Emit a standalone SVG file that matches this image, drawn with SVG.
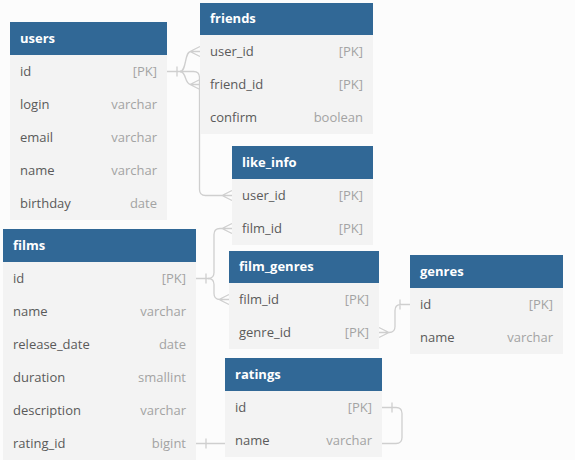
<svg xmlns="http://www.w3.org/2000/svg" width="575" height="460" viewBox="0 0 575 460">
<style>
.bg{fill:#fcfcfc}
.hd{fill:#316896}
.bd{fill:#f3f3f3}
.ht{font-family:"Open Sans","Liberation Sans",sans-serif;font-size:13px;font-weight:bold;fill:#ffffff}
.ft{font-family:"Open Sans","Liberation Sans",sans-serif;font-size:13px;fill:#5a5a5a}
.tt{font-family:"Open Sans","Liberation Sans",sans-serif;font-size:13px;fill:#a3a3a3;text-anchor:end}
.cn{fill:none;stroke:#cfcfcf;stroke-width:1.3}
</style>
<rect class="bg" x="0" y="0" width="575" height="460"/>
<g id="connectors">
<path class="cn" d="M167,71.5 H180 C187,71.5 184,51.5 191,51.5 H200 M190,51.5 L200,46.5 M190,51.5 L200,56.5 M177,66.5 V76.5"/>
<path class="cn" d="M180,71.5 C187,71.5 184,84.5 191,84.5 H200 M190,84.5 L200,79.5 M190,84.5 L200,89.5"/>
<path class="cn" d="M180,71.5 H193.5 Q199.5,71.5 199.5,77.5 V189.5 Q199.5,195.5 205.5,195.5 H232 M222,195.5 L232,190.5 M222,195.5 L232,200.5"/>
<path class="cn" d="M196,278.5 H208 Q214,278.5 214,272.5 V234.5 Q214,228.5 220,228.5 H232 M222,228.5 L232,223.5 M222,228.5 L232,233.5 M206,273.5 V283.5"/>
<path class="cn" d="M208,278.5 Q214,278.5 214,284.5 V293.5 Q214,299.5 220,299.5 H229 M219,299.5 L229,294.5 M219,299.5 L229,304.5"/>
<path class="cn" d="M379,332.5 H389 Q395,332.5 395,326.5 V310.5 Q395,304.5 401,304.5 H410 M389,332.5 L379,327.5 M389,332.5 L379,337.5 M400,299.5 V309.5"/>
<path class="cn" d="M196,443.5 H396 Q402,443.5 402,437.5 V413.5 Q402,407.5 396,407.5 H382 M206,438.5 V448.5 M392,402.5 V412.5"/>
</g>
<g id="users">
<rect class="bd" x="10" y="55" width="157" height="165"/>
<rect class="hd" x="10" y="22" width="157" height="33"/>
<text class="ht" x="20" y="43">users</text>
<text class="ft" x="20" y="76">id</text><text class="tt" x="157" y="76">[PK]</text>
<text class="ft" x="20" y="109">login</text><text class="tt" x="157" y="109">varchar</text>
<text class="ft" x="20" y="142">email</text><text class="tt" x="157" y="142">varchar</text>
<text class="ft" x="20" y="175">name</text><text class="tt" x="157" y="175">varchar</text>
<text class="ft" x="20" y="208">birthday</text><text class="tt" x="157" y="208">date</text>
</g>
<g id="friends">
<rect class="bd" x="200" y="35" width="173" height="99"/>
<rect class="hd" x="200" y="3" width="173" height="32"/>
<text class="ht" x="210" y="23">friends</text>
<text class="ft" x="210" y="56">user_id</text><text class="tt" x="363" y="56">[PK]</text>
<text class="ft" x="210" y="89">friend_id</text><text class="tt" x="363" y="89">[PK]</text>
<text class="ft" x="210" y="122">confirm</text><text class="tt" x="363" y="122">boolean</text>
</g>
<g id="like_info">
<rect class="bd" x="232" y="179" width="141" height="66"/>
<rect class="hd" x="232" y="146" width="141" height="33"/>
<text class="ht" x="242" y="167">like_info</text>
<text class="ft" x="242" y="200">user_id</text><text class="tt" x="363" y="200">[PK]</text>
<text class="ft" x="242" y="233">film_id</text><text class="tt" x="363" y="233">[PK]</text>
</g>
<g id="films">
<rect class="bd" x="3" y="262" width="193" height="198"/>
<rect class="hd" x="3" y="229" width="193" height="33"/>
<text class="ht" x="13" y="250">films</text>
<text class="ft" x="13" y="283">id</text><text class="tt" x="186" y="283">[PK]</text>
<text class="ft" x="13" y="316">name</text><text class="tt" x="186" y="316">varchar</text>
<text class="ft" x="13" y="349">release_date</text><text class="tt" x="186" y="349">date</text>
<text class="ft" x="13" y="382">duration</text><text class="tt" x="186" y="382">smallint</text>
<text class="ft" x="13" y="415">description</text><text class="tt" x="186" y="415">varchar</text>
<text class="ft" x="13" y="448">rating_id</text><text class="tt" x="186" y="448">bigint</text>
</g>
<g id="film_genres">
<rect class="bd" x="229" y="283" width="150" height="66"/>
<rect class="hd" x="229" y="251" width="150" height="32"/>
<text class="ht" x="239" y="271">film_genres</text>
<text class="ft" x="239" y="304">film_id</text><text class="tt" x="369" y="304">[PK]</text>
<text class="ft" x="239" y="337">genre_id</text><text class="tt" x="369" y="337">[PK]</text>
</g>
<g id="ratings">
<rect class="bd" x="225" y="391" width="157" height="66"/>
<rect class="hd" x="225" y="358" width="157" height="33"/>
<text class="ht" x="235" y="379">ratings</text>
<text class="ft" x="235" y="412">id</text><text class="tt" x="372" y="412">[PK]</text>
<text class="ft" x="235" y="445">name</text><text class="tt" x="372" y="445">varchar</text>
</g>
<g id="genres">
<rect class="bd" x="410" y="288" width="153" height="66"/>
<rect class="hd" x="410" y="255" width="153" height="33"/>
<text class="ht" x="420" y="276">genres</text>
<text class="ft" x="420" y="309">id</text><text class="tt" x="553" y="309">[PK]</text>
<text class="ft" x="420" y="342">name</text><text class="tt" x="553" y="342">varchar</text>
</g>
</svg>
